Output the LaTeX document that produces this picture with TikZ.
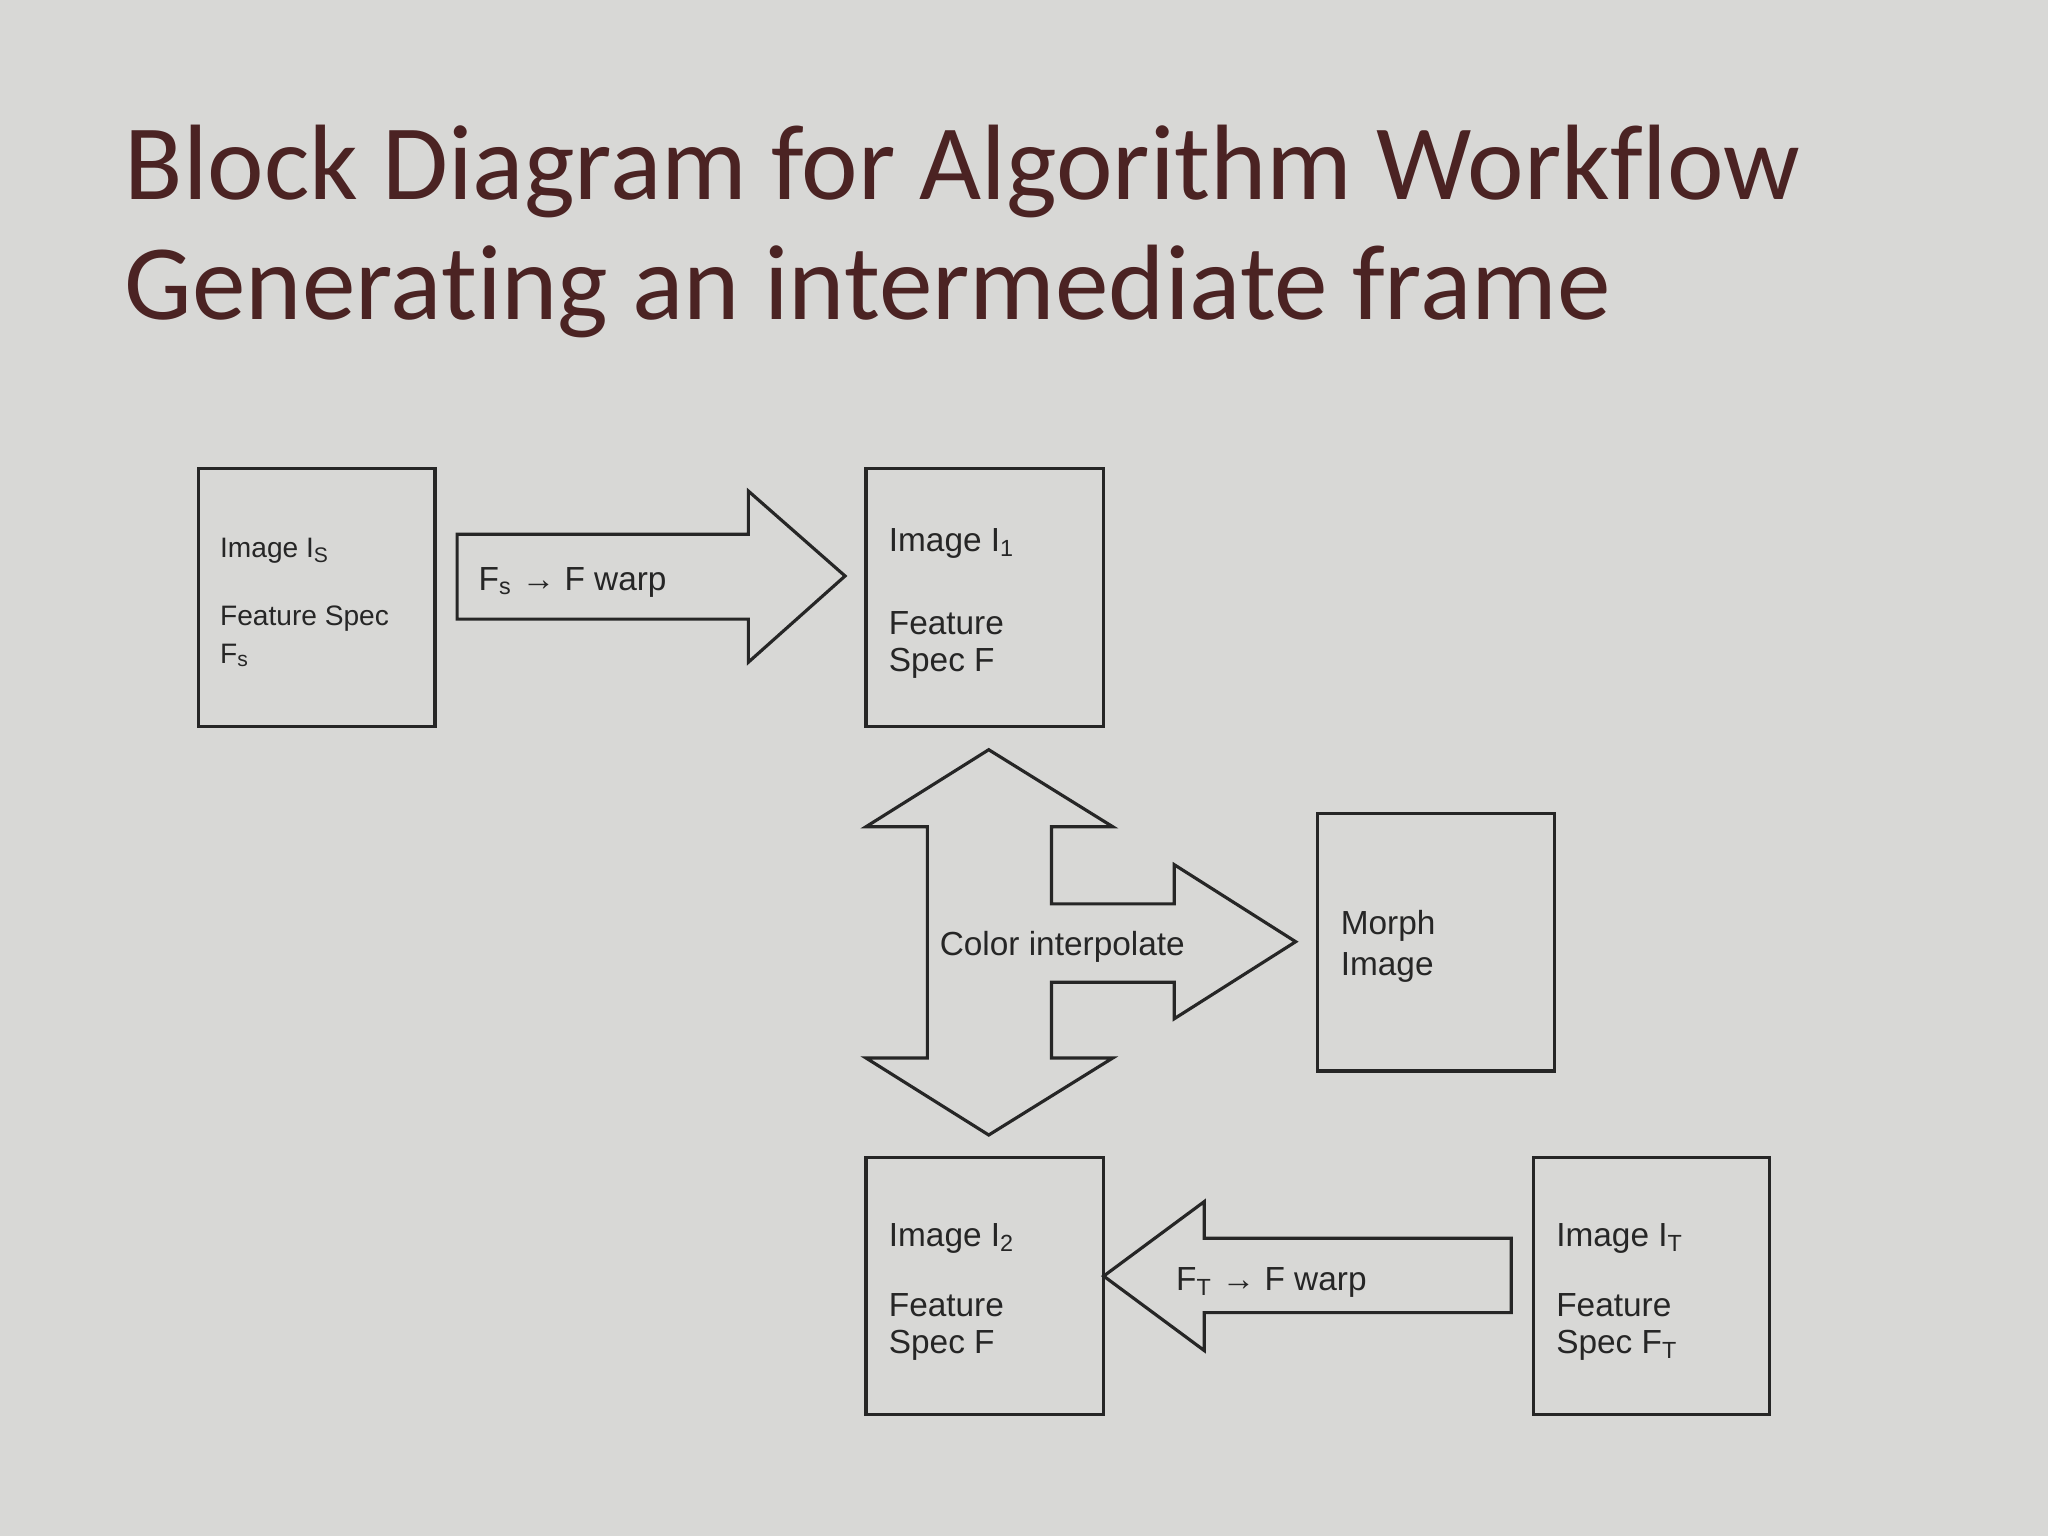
\documentclass[tikz,border=0pt]{standalone}
\usepackage{fontspec}
\setmainfont{Liberation Sans}
\newfontfamily\titlefont[Ligatures=NoCommon]{Carlito}
\begin{document}
\begin{tikzpicture}[x=0.01306cm,y=-0.01306cm,
  shp/.style={draw=black!85,line width=0.9pt},
  txt/.style={anchor=west,inner sep=0pt,font=\fontsize{9.5}{11}\selectfont,text=black!85},
  stxt/.style={anchor=west,inner sep=0pt,font=\fontsize{8}{10}\selectfont,text=black!85},
  ttl/.style={anchor=west,inner sep=0pt,font=\titlefont\fontsize{30.5}{33}\selectfont,text={rgb,255:red,75;green,35;blue,35}}]
\fill[fill={rgb,255:red,216;green,216;blue,214}] (0,0) rectangle (1568,1176);
\useasboundingbox (0,0) rectangle (1568,1176);
\node[ttl] (t1) at (95,131) {Block Diagram for Algorithm Workflow};
\node[ttl] (t2) at (95,223) {Generating an intermediate frame};
% box A
\draw[shp] (152,359) rectangle (333,556);
\node[stxt] (a1) at (168,422) {Image I\textsubscript{S}};
\node[stxt] (a2) at (168,474) {Feature Spec};
\node[stxt] (a3) at (168,502) {F\textsubscript{s}};
% arrow 1
\draw[shp] (350,409)--(573,409)--(573,376)--(647,441)--(573,507)--(573,474)--(350,474)--cycle;
\node[txt] (w1) at (366,446) {F\textsubscript{s} → F warp};
% box B
\draw[shp] (663,359) rectangle (845,556);
\node[txt] (b1) at (680,416) {Image I\textsubscript{1}};
\node[txt] (b2) at (680,477) {Feature};
\node[txt] (b3) at (680,508) {Spec F};
% double arrow
\draw[shp] (757,574)--(852,633)--(805,633)--(805,692)--(899,692)--(899,662)--(992,721)--(899,780)--(899,752)--(805,752)--(805,810)--(852,810)--(757,869)--(663,810)--(710,810)--(710,633)--(663,633)--cycle;
\node[txt] (ci) at (719,725) {Color interpolate};
% morph
\draw[shp] (1009,623) rectangle (1190,820);
\node[txt] (m1) at (1026,709) {Morph};
\node[txt] (m2) at (1026,741) {Image};
% box I2
\draw[shp] (663,886) rectangle (845,1083);
\node[txt] (c1) at (680,948) {Image I\textsubscript{2}};
\node[txt] (c2) at (680,999) {Feature};
\node[txt] (c3) at (680,1030) {Spec F};
% left arrow
\draw[shp] (845,977)--(922,920)--(922,948)--(1157,948)--(1157,1005)--(922,1005)--(922,1034)--cycle;
\node[txt] (w2) at (900,982) {F\textsubscript{T} → F warp};
% box IT
\draw[shp] (1174,886) rectangle (1355,1083);
\node[txt] (d1) at (1191,948) {Image I\textsubscript{T}};
\node[txt] (d2) at (1191,999) {Feature};
\node[txt] (d3) at (1191,1030) {Spec F\textsubscript{T}};
\end{tikzpicture}
\end{document}
